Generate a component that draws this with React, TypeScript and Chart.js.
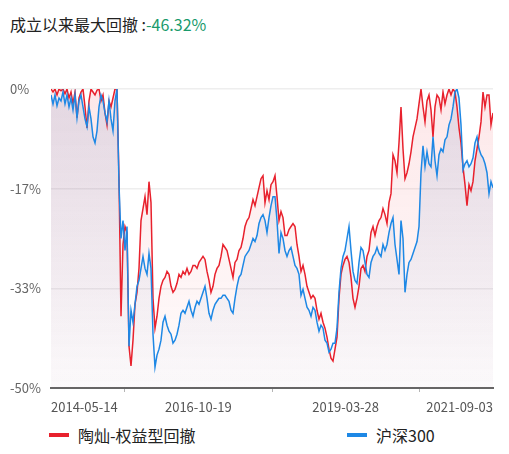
import { useEffect, useRef } from 'react';
import { Chart, registerables } from 'chart.js';

Chart.register(...registerables);

const FONT = '"Noto Sans CJK SC", "Noto Sans", sans-serif';

const titleText = '成立以来最大回撤 :';
const maxDrawdownText = '-46.32%';
const fundName = '陶灿-权益型回撤';
const indexName = '沪深300';
const fundColor = '#e8212d';
const indexColor = '#1e88e5';

// Date labels shown under the axis: first, one third, two thirds, last.
const xLabelDates = ['2014-05-14', '2016-10-19', '2019-03-28', '2021-09-03'];
// Y ticks: 0% down to -50% in thirds.
const yTickValues = [-50, -100 / 3, -50 / 3, 0];

// Drawdown (%) of the fund, sampled at even intervals through the period.
const fundDrawdown = [
  0, -0.5, 0, -1, 0, -0.3, 0, -0.8, 0, -1.5, -0.5, -2.5, -0.5, -4.8, -1.5, -0.5, 0, -3, -6.5, -2,
  0, -0.5, -1, -0.2, 0, -2, -1, -4, -6, -2, -3, -1.5, 0, 0,
  -15, -38, -26, -23, -24, -43, -46.32, -42, -36, -34, -30, -22, -20, -18, -21, -15.5, -19, -35, -40, -38,
  -35, -33,
  -32, -31.5, -30.5, -31, -33, -34, -33.5, -32.5, -31, -31.5, -30.5, -31, -30, -31, -30.5, -29.5, -29.5, -30, -29, -28.5,
  -28, -28.5, -30.5, -32, -34, -33, -31, -30, -29.5, -28, -26, -26.5, -27, -28.5, -30, -31.5, -29, -28.5, -27, -26.5,
  -25, -23, -22, -21.5, -20, -18.5, -19.5, -18, -16.5, -15, -14.5, -19, -17, -18.5, -16, -15.5, -14.5, -18, -22,
  -20.5, -21.5, -24.5, -24.5, -23.5, -23, -22.5, -23, -26, -28, -30.5, -29.5, -31, -33, -34, -35, -34.5, -35, -37, -38.5,
  -37.5, -39, -40, -41.5, -43.5, -45, -45.5, -43.5, -41.5, -35,
  -31, -29.5, -28.5, -28, -29, -31.5, -35, -36.5, -35, -33, -30, -29.5, -30.5, -28, -27, -24, -23, -24.5, -23, -22,
  -21.5, -20, -21, -22.5, -19, -17.5, -11, -12, -14, -9, -3, -10, -15, -14, -12.5, -10.5, -8, -6.5, -5, -2.5,
  0,
  -3, -5.5, -2, -1, -3.5, -8, -3, -1, -1.5, -3.5, -0.5, -2.5, -1, 0, -1, 0, -0.5, -3, -6.5, -9,
  -13, -16, -19.5, -16, -17, -15.5, -12, -10, -8, -5.5, -0.5, -3, -1, -1, -6, -4,
];

// Drawdown (%) of the CSI 300 index over the same dates.
const indexDrawdown = [
  -1, -2.5, -1, -2.8, -1.5, -2, -0.5, -2.5, -1, -3, -1.5, -3.5, -1, -4.8, -2, -1, -3, -5, -6.3, -3,
  -5, -8, -9, -7, -3, -1, -2, -4, -5.5, -2, -5, -7, -2, 0,
  -16, -25, -22, -27, -23, -43, -37, -39, -36, -33, -32, -30, -28, -30, -31, -27.5, -30, -41, -46.5, -44.5,
  -43.5, -42,
  -39, -38, -39.5, -40.5, -41, -42.5, -42, -41, -39.5, -37.5, -37, -37.5, -36.5, -35.5, -37, -38, -36.5, -35.5, -36, -35,
  -34, -33, -35, -37.5, -38.5, -37, -36, -35.5, -35, -35, -34.5, -34.5, -35, -35.5, -37, -37.5, -35, -33, -31.5, -31,
  -29.5, -28, -27.5, -27, -26, -25, -25.5, -24.5, -22.5, -21.5, -21, -22, -24, -21.5, -19.5, -18, -18, -22, -27.5,
  -24, -25, -27, -28, -27, -26.5, -28, -29.5, -30, -31, -34.5, -33.5, -35, -36.5, -37, -38, -36.5, -37, -39, -40.5,
  -39.5, -40, -42, -42.5, -44, -43.5, -42.5, -42.5, -40, -34,
  -30, -28, -27, -25, -23, -27, -30.5, -32, -32.5, -29, -26.5, -27, -29, -31, -31.5, -29, -28, -27.5, -26.5, -27.5,
  -28, -26, -27, -26, -24, -22.5, -21.5, -26, -28.5, -31, -22, -25, -34, -31, -29, -28.5, -27.5, -26.5, -25.5, -23,
  -14,
  -9.5, -13, -10.5, -12.5, -13, -8, -12, -14.5, -11, -10, -10.5, -8.5, -8, -6, -5, -3, -0.5, 0, -1.5, -6,
  -13.5, -12.5, -12, -13, -12.5, -11.5, -9, -8, -10, -11, -11.5, -12.5, -14, -17.5, -15.5, -16.5,
];

function verticalFill(rgb: string, topAlpha: number, bottomAlpha: number) {
  return (ctx: any) => {
    const { chart } = ctx;
    const area = chart.chartArea;
    if (!area) return `rgba(${rgb},${topAlpha})`;
    const g = chart.ctx.createLinearGradient(0, area.top, 0, area.bottom);
    g.addColorStop(0, `rgba(${rgb},${topAlpha})`);
    g.addColorStop(1, `rgba(${rgb},${bottomAlpha})`);
    return g;
  };
}

function DrawdownChart() {
  const canvasRef = useRef<HTMLCanvasElement | null>(null);

  useEffect(() => {
    const canvas = canvasRef.current;
    if (!canvas) return;
    const lastIndex = fundDrawdown.length - 1;

    const chart = new Chart(canvas, {
      type: 'line',
      data: {
        datasets: [
          {
            label: fundName,
            data: fundDrawdown.map((v, i) => ({ x: i, y: v })),
            borderColor: fundColor,
            borderWidth: 1.5,
            backgroundColor: verticalFill('236,40,52', 0.11, 0.015),
            fill: 'start',
            pointRadius: 0,
            tension: 0,
            order: 1,
          },
          {
            label: indexName,
            data: indexDrawdown.map((v, i) => ({ x: i, y: v })),
            borderColor: indexColor,
            borderWidth: 1.5,
            backgroundColor: verticalFill('40,90,170', 0.12, 0.015),
            fill: 'start',
            pointRadius: 0,
            tension: 0,
            order: 0,
          },
        ],
      },
      options: {
        responsive: false,
        animation: false,
        layout: { padding: { left: 10, right: 16, top: 29, bottom: 0 } },
        plugins: {
          legend: { display: false },
          tooltip: { enabled: false },
          filler: { drawTime: 'beforeDatasetsDraw' },
        },
        scales: {
          x: {
            type: 'linear',
            min: 0,
            max: lastIndex,
            afterBuildTicks: (scale: any) => {
              scale.ticks = [0, 1, 2, 3, 4, 5, 6].map((k) => ({ value: (lastIndex * k) / 6 }));
            },
            afterFit: (scale: any) => {
              scale.height = 32;
            },
            ticks: {
              autoSkip: false,
              maxRotation: 0,
              align: 'inner',
              padding: 7,
              color: '#555',
              font: { family: FONT, size: 13 },
              callback: (_v: any, index: number) => (index % 2 === 0 ? xLabelDates[index / 2] : ''),
            },
            grid: {
              drawOnChartArea: false,
              drawTicks: true,
              tickLength: 4,
              color: (ctx: any) => (ctx.index % 2 === 1 ? '#b5b5b5' : 'rgba(0,0,0,0)'),
            },
            border: { display: true, color: '#666', width: 2 },
          },
          y: {
            min: -50,
            max: 0,
            afterBuildTicks: (scale: any) => {
              scale.ticks = yTickValues.map((v) => ({ value: v }));
            },
            afterFit: (scale: any) => {
              scale.width = 41;
            },
            ticks: {
              crossAlign: 'far',
              padding: 0,
              color: '#666',
              font: { family: FONT, size: 13 },
              callback: (v: any) => `${Math.round(Number(v))}%`,
            },
            grid: {
              drawTicks: false,
              color: (ctx: any) => (ctx.tick && ctx.tick.value === -50 ? 'rgba(0,0,0,0)' : '#eeeeee'),
              lineWidth: 1.5,
            },
            border: { display: false },
          },
        },
      },
    } as any);

    return () => chart.destroy();
  }, []);

  return (
    <canvas
      ref={canvasRef}
      width={509}
      height={360}
      style={{ position: 'absolute', left: 0, top: 60, width: 509, height: 360 }}
    />
  );
}

function LegendItem({ left, color, text }: { left: number; color: string; text: string }) {
  return (
    <div
      style={{
        position: 'absolute',
        left,
        top: 424,
        display: 'flex',
        alignItems: 'center',
        height: 22,
        fontSize: 16,
        color: '#222',
        whiteSpace: 'nowrap',
      }}
    >
      <span style={{ display: 'inline-block', width: 20, height: 4, background: color, marginRight: 9 }} />
      <span>{text}</span>
    </div>
  );
}

export default function App() {
  return (
    <div
      style={{
        position: 'absolute',
        left: 0,
        top: 0,
        width: 509,
        height: 454,
        background: '#fff',
        fontFamily: FONT,
        overflow: 'hidden',
      }}
    >
      <div
        style={{
          position: 'absolute',
          left: 10,
          top: 12,
          fontSize: 16,
          lineHeight: '24px',
          color: '#222',
          whiteSpace: 'nowrap',
        }}
      >
        {titleText}
        <span style={{ color: '#1a9a6c' }}>{maxDrawdownText}</span>
      </div>
      <DrawdownChart />
      <LegendItem left={49} color={fundColor} text={fundName} />
      <LegendItem left={347} color={indexColor} text={indexName} />
    </div>
  );
}
